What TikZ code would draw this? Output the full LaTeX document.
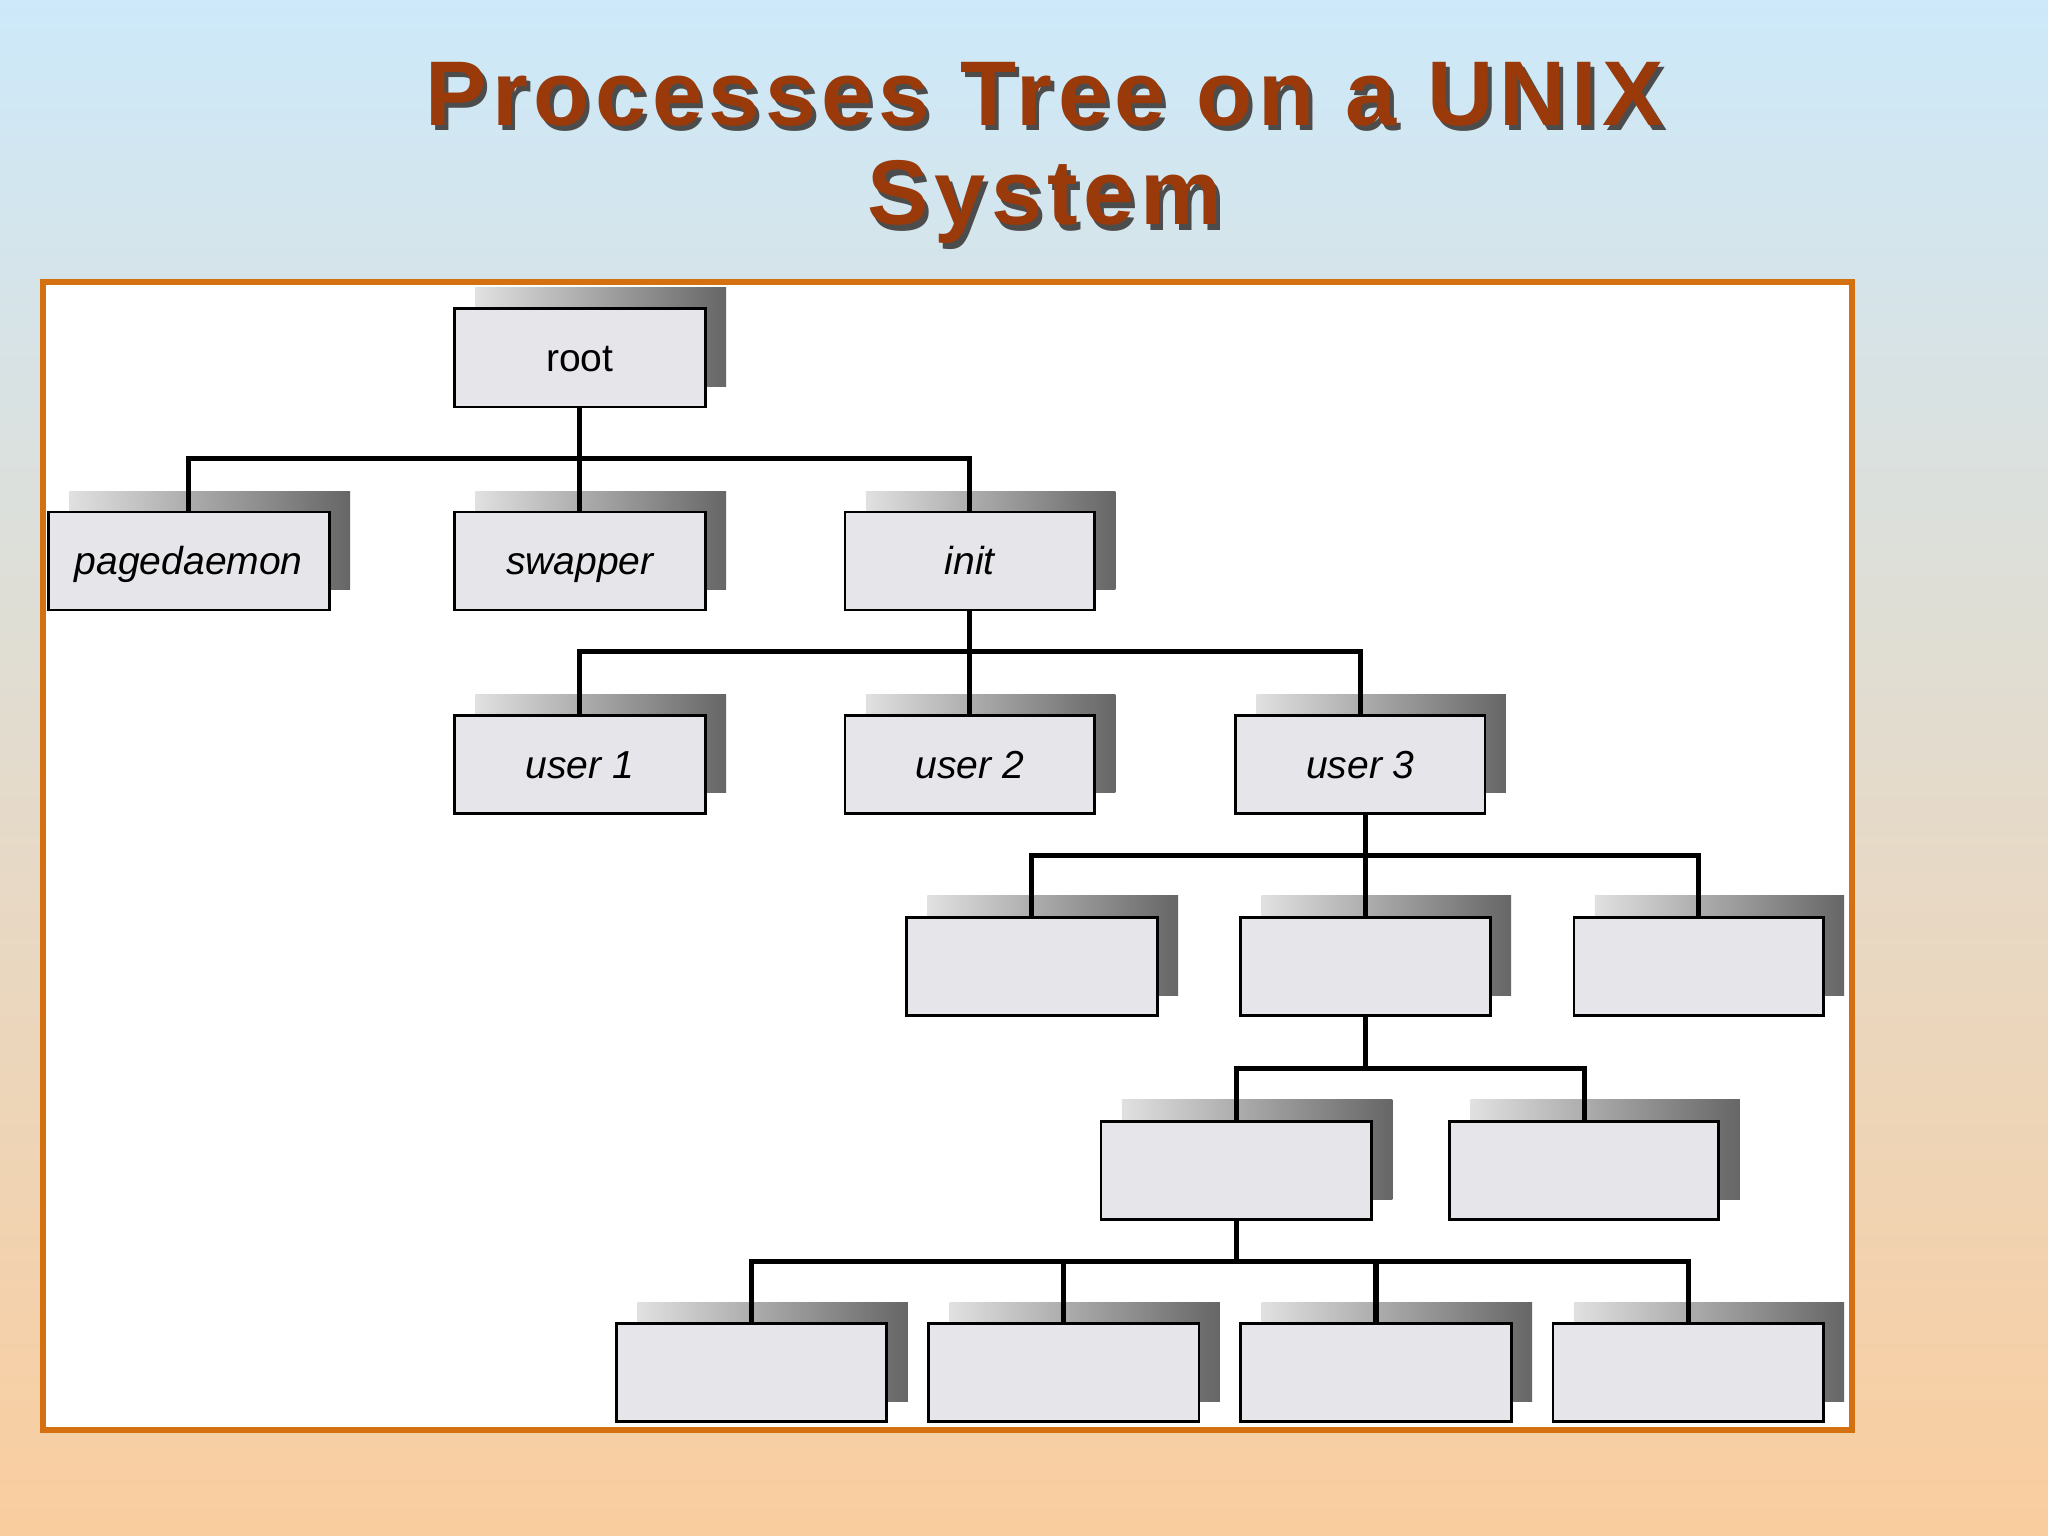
\documentclass[tikz,border=0pt]{standalone}
\usepackage{fontspec}
\setmainfont{Liberation Sans}
\begin{document}
\begin{tikzpicture}[x=0.01cm,y=-0.01cm,
 box/.style={draw=black,line width=0.6pt,fill=boxc,minimum width=#1*0.01cm,minimum height=0.75cm,inner sep=0pt,text height=1.6ex,text depth=0.45ex,font=\fontsize{8.5}{10}\selectfont\itshape},
 ln/.style={line width=1.1pt}]
\definecolor{boxc}{HTML}{E6E5EA}
\definecolor{ttl}{HTML}{9A3A0A}
\definecolor{frm}{HTML}{D4700F}
\shade[top color={rgb,255:red,205;green,233;blue,250},bottom color={rgb,255:red,250;green,205;blue,158}] (0,0) rectangle (1568,1176);
\useasboundingbox (0,0) rectangle (1568,1176);
\foreach \t/\y in {{Processes Tree on a UNIX}/72,{System}/155}{
 \node[font=\fontsize{20}{20}\selectfont\bfseries\addfontfeature{LetterSpace=6},text=black!70] at (803,\y+4) {\t};
 \node[font=\fontsize{20}{20}\selectfont\bfseries\addfontfeature{LetterSpace=6},text=ttl] (t\y) at (800,\y) {\t};}
\draw[frm,line width=1.3pt,fill=white] (33,216) rectangle (1418,1095);
% shadows
\foreach \a/\b/\c/\d in {348/540/236/312, 37/252/392/467, 348/540/392/467, 647/838/392/467,
 348/540/548/623, 647/838/548/623, 946/1137/548/623,
 694/886/702/778, 950/1141/702/778, 1205/1396/702/778,
 843/1050/858/934, 1110/1316/858/934,
 472/679/1013/1089, 711/918/1013/1089, 950/1157/1013/1089, 1189/1396/1013/1089}{
 \shade[left color=black!12,right color=black!60] (\a+16,\c-16) rectangle (\b+16,\d-16);}
\node[box=192,font=\fontsize{8.5}{10}\selectfont] (root) at (444,274) {root};
\node[box=215] (pd) at (144.5,429.5) {pagedaemon};
\node[box=192] (sw) at (444,429.5) {swapper};
\node[box=191] (init) at (742.5,429.5) {init};
\node[box=192] (u1) at (444,585.5) {user 1};
\node[box=191] (u2) at (742.5,585.5) {user 2};
\node[box=191] (u3) at (1041.5,585.5) {user 3};
\node[box=192] (a1) at (790,740) {};
\node[box=191] (a2) at (1045.5,740) {};
\node[box=191] (a3) at (1300.5,740) {};
\node[box=207] (b1) at (946.5,896) {};
\node[box=206] (b2) at (1213,896) {};
\node[box=207] (c1) at (575.5,1051) {};
\node[box=207] (c2) at (814.5,1051) {};
\node[box=207] (c3) at (1053.5,1051) {};
\node[box=207] (c4) at (1292.5,1051) {};
\begin{scope}[ln]
\draw (root.south) -- (sw.north);
\draw (root.south|-0,351) -| (pd.north);
\draw (root.south|-0,351) -| (init.north);
\draw (init.south) -- (u2.north);
\draw (init.south|-0,499) -| (u1.north);
\draw (init.south|-0,499) -| (u3.north);
\draw (a2.north) -- (a2.north|-u3.south);
\draw (a2.north|-0,655) -| (a1.north);
\draw (a2.north|-0,655) -| (a3.north);
\draw (a2.south) -- (a2.south|-0,818) -| (b1.north);
\draw (a2.south|-0,818) -| (b2.north);
\draw (b1.south) -- (b1.south|-0,966) -| (c1.north);
\draw (b1.south|-0,966) -| (c2.north);
\draw (b1.south|-0,966) -| (c3.north);
\draw (b1.south|-0,966) -| (c4.north);
\end{scope}
\end{tikzpicture}
\end{document}
